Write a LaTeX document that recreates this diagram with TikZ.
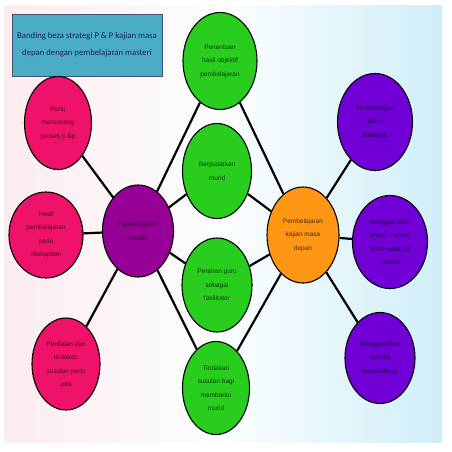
\documentclass[tikz,border=0pt]{standalone}
\usepackage{fontspec}
\setmainfont{Liberation Sans}
\newfontfamily\titlefont{Carlito}
\definecolor{BandPink}{RGB}{238, 18, 106}
\definecolor{BandPurple}{RGB}{150, 0, 150}
\definecolor{BandGreen}{RGB}{40, 205, 30}
\definecolor{BandOrange}{RGB}{255, 150, 20}
\definecolor{BandViolet}{RGB}{112, 0, 214}
\definecolor{BandTeal}{RGB}{75, 172, 198}
\definecolor{BandNavy}{RGB}{20, 40, 80}
\definecolor{BackRose}{RGB}{252, 236, 238}
\definecolor{BackSky}{RGB}{208, 238, 248}
\usetikzlibrary{shapes.geometric, positioning}

\tikzset{
  bubble/.style={ellipse, draw=black, line width=1.1pt, inner sep=0pt, align=center,
    font=\fontsize{6.5}{13.5}\selectfont},
  link/.style={draw=black, line width=2.2pt}
}

\begin{document}
\begin{tikzpicture}[x=1pt, y=-1pt]
    \useasboundingbox (0,0) rectangle (452,452);
    \shade[left color=BackRose, right color=BackSky, middle color=white!92!BackSky] (4,6) rectangle (442,442);

    % title
    \node[draw=BandNavy!80, line width=0.8pt, fill=BandTeal, minimum width=150pt, minimum height=62pt, inner sep=0pt, align=center, text=BandNavy, font=\titlefont\fontsize{8.7}{17}\selectfont] (title) at (87,45) {
      Banding beza strategi P \& P kajian masa\\depan dengan pembelajaran masteri
    };

    % left column
    \node[bubble, fill=BandPink, text=BandPink!35!black, minimum width=67pt, minimum height=93pt] (p1) at (58,123) {Perlu\\merancang\\proses p \&p};
    \node[bubble, fill=BandPink, text=BandPink!35!black, minimum width=74pt, minimum height=86pt] (p2) at (46,235) {Hasil\\pembelajaran\\perlu\\ditetapkan};
    \node[bubble, fill=BandPink, text=BandPink!35!black, minimum width=68pt, minimum height=92pt] (p3) at (66,364) {Penilaian dan\\tindakan\\susulan perlu\\ada};

    % centre nodes
    \node[bubble, fill=BandPurple, text=BandPurple!35!black, minimum width=71pt, minimum height=92pt] (mast) at (138,231) {Pembelajaran\\masteri};
    \node[bubble, fill=BandOrange, text=BandOrange!30!black, minimum width=72pt, minimum height=96pt] (kmd) at (303,235) {Pembelajaran\\kajian masa\\depan};

    % shared column
    \node[bubble, fill=BandGreen, text=BandGreen!30!black, minimum width=74pt, minimum height=97pt] (g1) at (220,61) {Penentuan\\hasil objektif\\pembelajaran};
    \node[bubble, fill=BandGreen, text=BandGreen!30!black, minimum width=69pt, minimum height=95pt] (g2) at (217,171) {Berpusatkan\\murid};
    \node[bubble, fill=BandGreen, text=BandGreen!30!black, minimum width=70pt, minimum height=94pt] (g3) at (217,285) {Peranan guru\\sebagai\\fasilitator};
    \node[bubble, fill=BandGreen, text=BandGreen!30!black, minimum width=67pt, minimum height=93pt] (g4) at (216,388) {Tindakan\\susulan bagi\\membantu\\murid};

    % right column
    \node[bubble, fill=BandViolet, text=BandViolet!35!black, minimum width=75pt, minimum height=97pt] (v1) at (375,122) {Perancangan\\perlu\\strategik};
    \node[bubble, fill=BandViolet, text=BandViolet!35!black, minimum width=75pt, minimum height=93pt] (v2) at (390,242) {Menggunakan\\unsur -- unsur\\KMD sebagai\\indikasi};
    \node[bubble, fill=BandViolet, text=BandViolet!35!black, minimum width=70pt, minimum height=91pt] (v3) at (380,358) {Menggunakan\\matriks\\sepenuhnya};

    % links
    \foreach \n in {p1, p2, p3} {
      \draw[link] (\n) -- (mast);
    }
    \foreach \n in {g1, g2, g3, g4} {
      \draw[link] (mast) -- (\n);
      \draw[link] (\n) -- (kmd);
    }
    \foreach \n in {v1, v2, v3} {
      \draw[link] (kmd) -- (\n);
    }
\end{tikzpicture}
\end{document}
